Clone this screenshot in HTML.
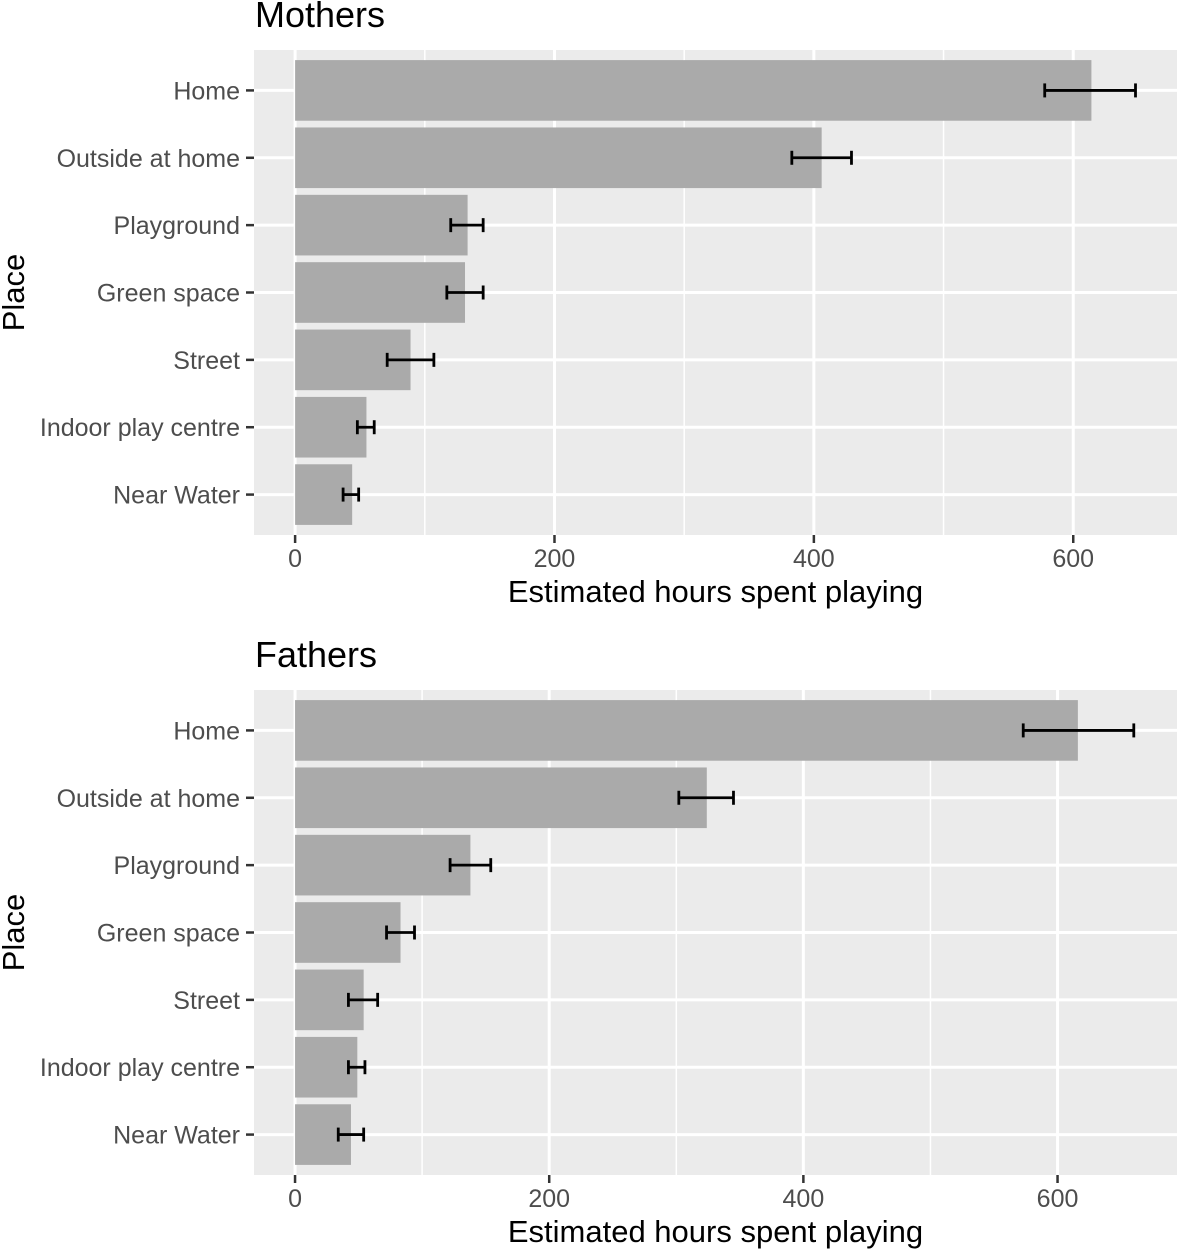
<!DOCTYPE html>
<html><head><meta charset="utf-8"><style>
body{margin:0;background:#fff}
svg{display:block;font-family:"Liberation Sans",Arial,sans-serif}
</style></head><body>
<svg id="chart" width="1177" height="1249" xmlns="http://www.w3.org/2000/svg"></svg>
<script>
const categories = ["Home","Outside at home","Playground","Green space","Street","Indoor play centre","Near Water"];
const motherValues = [614, 406, 133, 131, 89, 55, 44];
const motherLow = [578, 383, 120, 117, 71, 48, 37];
const motherHigh = [648, 429, 145, 145, 107, 61, 49];
const fatherValues = [616, 324, 138, 83, 54, 49, 44];
const fatherLow = [573, 302, 122, 72, 42, 42, 34];
const fatherHigh = [660, 345, 154, 94, 65, 55, 54];
const xTicks = [0, 200, 400, 600];
const xMinor = [100, 300, 500];

const NS = "http://www.w3.org/2000/svg";
const svg = document.getElementById('chart');
function mk(tag, attrs, parent, name) {
  const e = document.createElementNS(NS, tag);
  for (const k in attrs) e.setAttribute(k, attrs[k]);
  
  
  (parent || svg).appendChild(e);
  return e;
}
function panel(title, vals, lo, hi, top, xmin, xmax, prefix) {
  const g = mk('g', {}, svg, prefix + '-panel');
  const L = 254, R = 1177, B = top + 485;
  const step = 485 / 7.2;
  const x = v => L + (v - xmin) / (xmax - xmin) * (R - L);
  const y = i => top + step * 0.6 + i * step;
  mk('rect', {x: L, y: top, width: R - L, height: B - top, fill: '#ebebeb'}, g, prefix + '-background');
  xMinor.forEach(t => mk('line', {x1: x(t), x2: x(t), y1: top, y2: B, stroke: '#fff', 'stroke-width': 1.5}, g, prefix + '-minor-gridline'));
  xTicks.forEach(t => mk('line', {x1: x(t), x2: x(t), y1: top, y2: B, stroke: '#fff', 'stroke-width': 3}, g, prefix + '-major-gridline'));
  categories.forEach((c, i) => mk('line', {x1: L, x2: R, y1: y(i), y2: y(i), stroke: '#fff', 'stroke-width': 3}, g, prefix + '-hgridline'));
  const bh = step * 0.9;
  vals.forEach((v, i) => {
    mk('rect', {x: x(0), y: y(i) - bh / 2, width: x(v) - x(0), height: bh, fill: '#aaaaaa'}, g, prefix + '-bar-' + i);
    const eg = mk('g', {stroke: '#000', 'stroke-width': 2.8}, g, prefix + '-errorbar-' + i);
    mk('line', {x1: x(lo[i]), x2: x(hi[i]), y1: y(i), y2: y(i)}, eg, 'errorbar-line');
    mk('line', {x1: x(lo[i]), x2: x(lo[i]), y1: y(i) - 7, y2: y(i) + 7}, eg, 'errorbar-cap-low');
    mk('line', {x1: x(hi[i]), x2: x(hi[i]), y1: y(i) - 7, y2: y(i) + 7}, eg, 'errorbar-cap-high');
  });
  categories.forEach((c, i) => {
    mk('line', {x1: 246, x2: L, y1: y(i), y2: y(i), stroke: '#333', 'stroke-width': 2.5}, g, prefix + '-ytick');
    const t = mk('text', {x: 240, y: y(i) + 9, 'text-anchor': 'end', 'font-size': 25, fill: '#4d4d4d'}, g, prefix + '-ytick-label');
    t.textContent = c;
  });
  xTicks.forEach(v => {
    mk('line', {x1: x(v), x2: x(v), y1: B, y2: B + 8, stroke: '#333', 'stroke-width': 2.5}, g, prefix + '-xtick');
    const t = mk('text', {x: x(v), y: B + 32, 'text-anchor': 'middle', 'font-size': 25, fill: '#4d4d4d'}, g, prefix + '-xtick-label');
    t.textContent = v;
  });
  const xt = mk('text', {x: (L + R) / 2, y: B + 67, 'text-anchor': 'middle', 'font-size': 31, fill: '#000'}, g, prefix + '-x-axis-title');
  xt.textContent = 'Estimated hours spent playing';
  const yt = mk('text', {x: 0, y: 0, transform: `translate(24,${(top + B) / 2}) rotate(-90)`, 'text-anchor': 'middle', 'font-size': 31, fill: '#000'}, g, prefix + '-y-axis-title');
  yt.textContent = 'Place';
  const tt = mk('text', {x: 255, y: top - 23, 'font-size': 36, fill: '#000'}, g, prefix + '-title');
  tt.textContent = title;
}
panel('Mothers', motherValues, motherLow, motherHigh, 50, -31.7, 680, 'mothers');
panel('Fathers', fatherValues, fatherLow, fatherHigh, 690, -32.3, 694, 'fathers');
</script>
</body></html>
